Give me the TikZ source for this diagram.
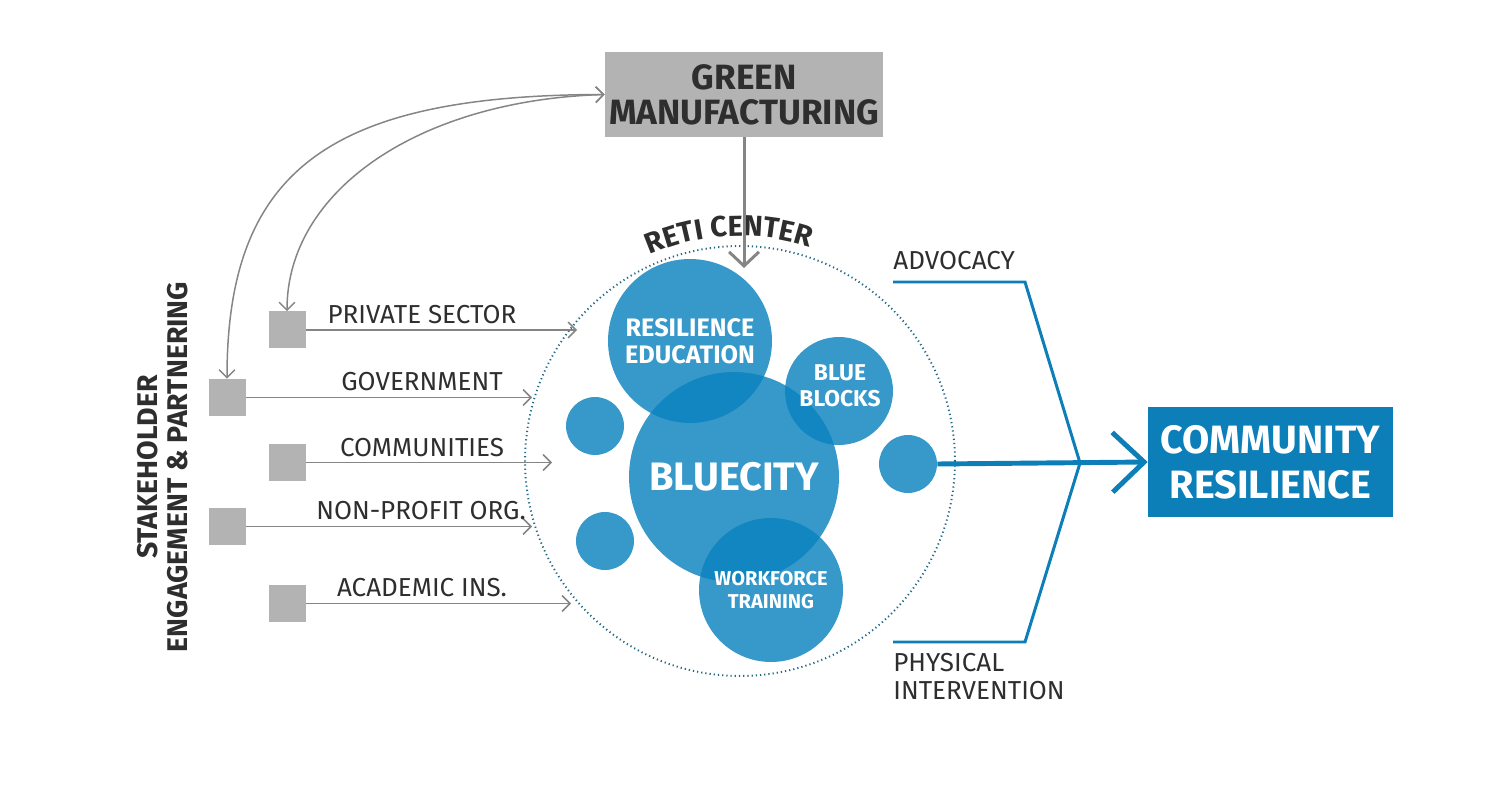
\documentclass[tikz,border=0pt]{standalone}
\usepackage{fontspec}
\setmainfont{Fira Sans}
\usetikzlibrary{arrows.meta,decorations.text}
\definecolor{darktext}{HTML}{2E2E2E}
\definecolor{linegray}{HTML}{858585}
\definecolor{boxgray}{HTML}{B3B3B3}
\definecolor{bubblue}{RGB}{10,130,190}
\definecolor{deepblue}{RGB}{12,126,184}
\definecolor{dotblue}{RGB}{35,105,135}
\begin{document}
\begin{tikzpicture}[x=0.02cm,y=0.02cm,
  gbox/.style={fill=boxgray, text=darktext, align=center, inner sep=0,
    minimum width=5.56cm, minimum height=1.7cm,
    font=\bfseries\fontsize{20}{20}\selectfont},
  cbox/.style={fill=deepblue, text=white, align=center, inner sep=0,
    minimum width=4.9cm, minimum height=2.2cm,
    font=\bfseries\fontsize{22.5}{25.5}\selectfont},
  sqbox/.style={fill=boxgray, minimum size=0.74cm, inner sep=0},
  lbl/.style={text=darktext, inner sep=0, font=\fontsize{14.8}{16}\selectfont},
  bub/.style={circle, fill=bubblue, fill opacity=0.82, text opacity=1,
    text=white, inner sep=0, align=center},
  thinarrow/.style={draw=linegray, line width=0.85pt,
    -{Straight Barb[length=4.5pt,width=9pt]}},
  botharrow/.style={draw=linegray, line width=0.85pt,
    {Straight Barb[length=4.5pt,width=9pt]}-{Straight Barb[length=4.5pt,width=9pt]}},
  gmarrow/.style={draw=linegray, line width=1.7pt,
    -{Straight Barb[length=8pt,width=17pt]}},
  bluearrow/.style={draw=deepblue, line width=2.8pt,
    -{Straight Barb[length=18pt,width=34pt]}},
  bluebr/.style={draw=deepblue, line width=1.7pt},
  dotcircle/.style={circle, draw=dotblue, line width=1.1pt,
    dash pattern=on 0.7pt off 1.7pt, minimum size=8.6cm, inner sep=0}
]
\useasboundingbox (0,0) rectangle (1500,-786);

% RETI center circle
\node[dotcircle] (reti) at (740,-461) {};
\path[decorate, decoration={text along path, text align=center,
  text={|\bfseries\fontsize{16.5}{18}\selectfont\color{darktext}|RETI CENTER}}]
  (740,-461) ++(122.8:225) arc (122.8:62.8:225);

% bubbles
\node[bub, minimum size=3.28cm, font=\bfseries\fontsize{14.4}{15.3}\selectfont] (resed) at (690,-341) {RESILIENCE\\EDUCATION};
\node[bub, minimum size=4.2cm, font=\bfseries\fontsize{22.6}{24}\selectfont] (bc) at (734,-477) {BLUECITY};
\node[bub, minimum size=2.16cm] (bb) at (839,-391) {};
\node[text=white, align=center, inner sep=0, font=\bfseries\fontsize{13}{14.8}\selectfont] (bbt) at (840,-386) {BLUE\\BLOCKS};
\node[bub, minimum size=2.88cm, font=\bfseries\fontsize{11.4}{13}\selectfont] (wt) at (771,-590) {WORKFORCE\\TRAINING};
\node[bub, minimum size=1.16cm] (s1) at (595,-426) {};
\node[bub, minimum size=1.16cm] (s2) at (605,-541) {};
\node[bub, minimum size=1.16cm] (s3) at (908,-464) {};

% green manufacturing
\node[gbox] (gm) at (744,-94.5) {GREEN\\MANUFACTURING};
\coordinate (gmtip) at (744,-268);
\draw[gmarrow] (gm.south) -- (gmtip);

% stakeholder label
\node[rotate=90, align=center, text=darktext, inner sep=0,
  font=\bfseries\fontsize{16.2}{17}\selectfont] (stake) at (163,-467)
  {STAKEHOLDER\\ENGAGEMENT \& PARTNERING};

% squares
\node[sqbox] (q1) at (287,-330) {};
\node[sqbox] (q2) at (227,-397.5) {};
\node[sqbox] (q3) at (287,-462.5) {};
\node[sqbox] (q4) at (227,-526.5) {};
\node[sqbox] (q5) at (287,-603.5) {};

\coordinate (e1) at (577,-330);
\coordinate (e2) at (532,-397.5);
\coordinate (e3) at (552,-462.5);
\coordinate (e4) at (532,-526.5);
\coordinate (e5) at (571,-603.5);
\draw[thinarrow] (q1.east) -- (e1);
\draw[thinarrow] (q2.east) -- (e2);
\draw[thinarrow] (q3.east) -- (e3);
\draw[thinarrow] (q4.east) -- (e4);
\draw[thinarrow] (q5.east) -- (e5);

\node[lbl, anchor=base] (l1) at (422,-324) {PRIVATE SECTOR};
\node[lbl, anchor=base] (l2) at (422,-391) {GOVERNMENT};
\node[lbl, anchor=base] (l3) at (422,-457) {COMMUNITIES};
\node[lbl, anchor=base] (l4) at (421,-520) {NON-PROFIT ORG.};
\node[lbl, anchor=base] (l5) at (422,-596) {ACADEMIC INS.};

% curved arrows
\draw[botharrow] (q2.north) .. controls (227,-170) and (330,-95) .. (gm.west);
\draw[botharrow] (q1.north) .. controls (287,-190) and (420,-100) .. (gm.west);

% outputs
\node[cbox] (cr) at (1270.5,-462) {COMMUNITY\\RESILIENCE};
\draw[bluearrow] (s3.east) -- (cr.west);
\coordinate (jn) at (1080,-463);
\draw[bluebr] (893,-282) -- (1025,-282) -- (jn) -- (1025,-642) -- (893,-642);

\node[lbl, anchor=base west] (adv) at (893,-270) {ADVOCACY};
\node[lbl, anchor=base west] (phy) at (893,-671) {PHYSICAL};
\node[lbl, anchor=base west] (int) at (893,-699) {INTERVENTION};
\end{tikzpicture}
\end{document}
